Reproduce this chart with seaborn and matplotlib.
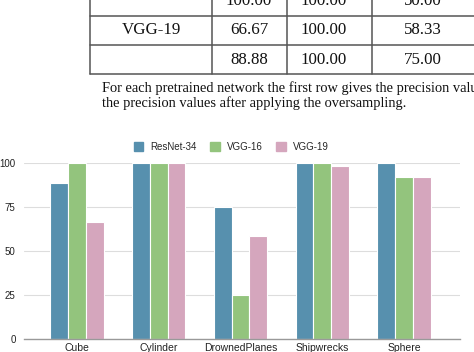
import matplotlib
matplotlib.use("Agg")
import matplotlib.pyplot as plt
from matplotlib.lines import Line2D
import seaborn as sns
import pandas as pd

# chart data
categories = ["Cube", "Cylinder", "DrownedPlanes", "Shipwrecks", "Sphere"]
models = ["ResNet-34", "VGG-16", "VGG-19"]
resnet34 = [88.88, 100.0, 75.0, 100.0, 100.0]
vgg16 = [100.0, 100.0, 25.0, 100.0, 92.3]
vgg19 = [66.67, 100.0, 58.33, 98.5, 92.3]
yticks = [0, 25, 50, 75, 100]

# table fragment above the chart
table_rows = [
    ["", "100.00", "100.00", "50.00"],
    ["VGG-19", "66.67", "100.00", "58.33"],
    ["", "88.88", "100.00", "75.00"],
]
caption = [
    "For each pretrained network the first row gives the precision values",
    "the precision values after applying the oversampling.",
]

colors = ["#5790ae", "#93c47d", "#d5a6bd"]

df = pd.DataFrame({
    "category": categories * 3,
    "model": [m for m in models for _ in categories],
    "value": resnet34 + vgg16 + vgg19,
})

W, H = 474, 352
fig = plt.figure(figsize=(W / 100, H / 100), dpi=100)
sns.set_style("white")


def fx(px):
    return px / W


def fy(py):
    return 1 - py / H


# --- table lines and text (figure pixel coords) ---
line_c = "#555555"
for y in [16, 45, 74]:
    fig.add_artist(Line2D([fx(90), fx(474)], [fy(y), fy(y)], color=line_c, lw=1.1))
for x in [90, 212, 287, 372]:
    fig.add_artist(Line2D([fx(x), fx(x)], [fy(-2), fy(74)], color=line_c, lw=1.1))

col_x = [151, 249, 324, 423]
row_y = [1.0, 30.5, 59.5]
for r, row in enumerate(table_rows):
    for c, txt in enumerate(row):
        if txt:
            fig.text(fx(col_x[c]), fy(row_y[r]), txt, ha="center", va="center",
                     fontsize=12.2, family="Liberation Serif", color="#111111")

for i, line in enumerate(caption):
    fig.text(fx(102), fy(88 + i * 15), line, ha="left", va="center",
             fontsize=10.4, family="Liberation Serif", color="#111111")

# --- bar chart ---
ax = fig.add_axes([fx(24), fy(339), fx(460) - fx(24), fy(162.5) - fy(339)])
sns.barplot(data=df, x="category", y="value", hue="model", palette=colors,
            width=0.65, edgecolor="white", linewidth=0.8, saturation=1,
            ax=ax, legend=False)

ax.set_ylim(0, 100.3)
ax.set_xlim(-0.648, 4.685)
ax.set_yticks(yticks)
ax.set_yticklabels([str(t) for t in yticks])
ax.yaxis.grid(True, color="#dddddd", lw=0.8)
ax.set_axisbelow(True)
for s in ["top", "right", "left"]:
    ax.spines[s].set_visible(False)
ax.spines["bottom"].set_color("#999999")
ax.spines["bottom"].set_linewidth(1.0)
ax.tick_params(axis="both", length=0, colors="#222222")
ax.tick_params(axis="y", pad=6, labelsize=7)
ax.tick_params(axis="x", pad=3, labelsize=7.5)
ax.set_xlabel("")
ax.set_ylabel("")
for lbl in ax.get_xticklabels() + ax.get_yticklabels():
    lbl.set_family("Liberation Sans")

handles = [plt.Rectangle((0, 0), 1, 1, color=c) for c in colors]
fig.legend(handles, models, loc="center", bbox_to_anchor=(fx(231), fy(147)),
           ncol=3, frameon=False, handlelength=1.0, handleheight=1.0,
           columnspacing=1.4, handletextpad=0.7,
           prop={"family": "Liberation Sans", "size": 7})

fig.savefig("out.png", dpi=100)
